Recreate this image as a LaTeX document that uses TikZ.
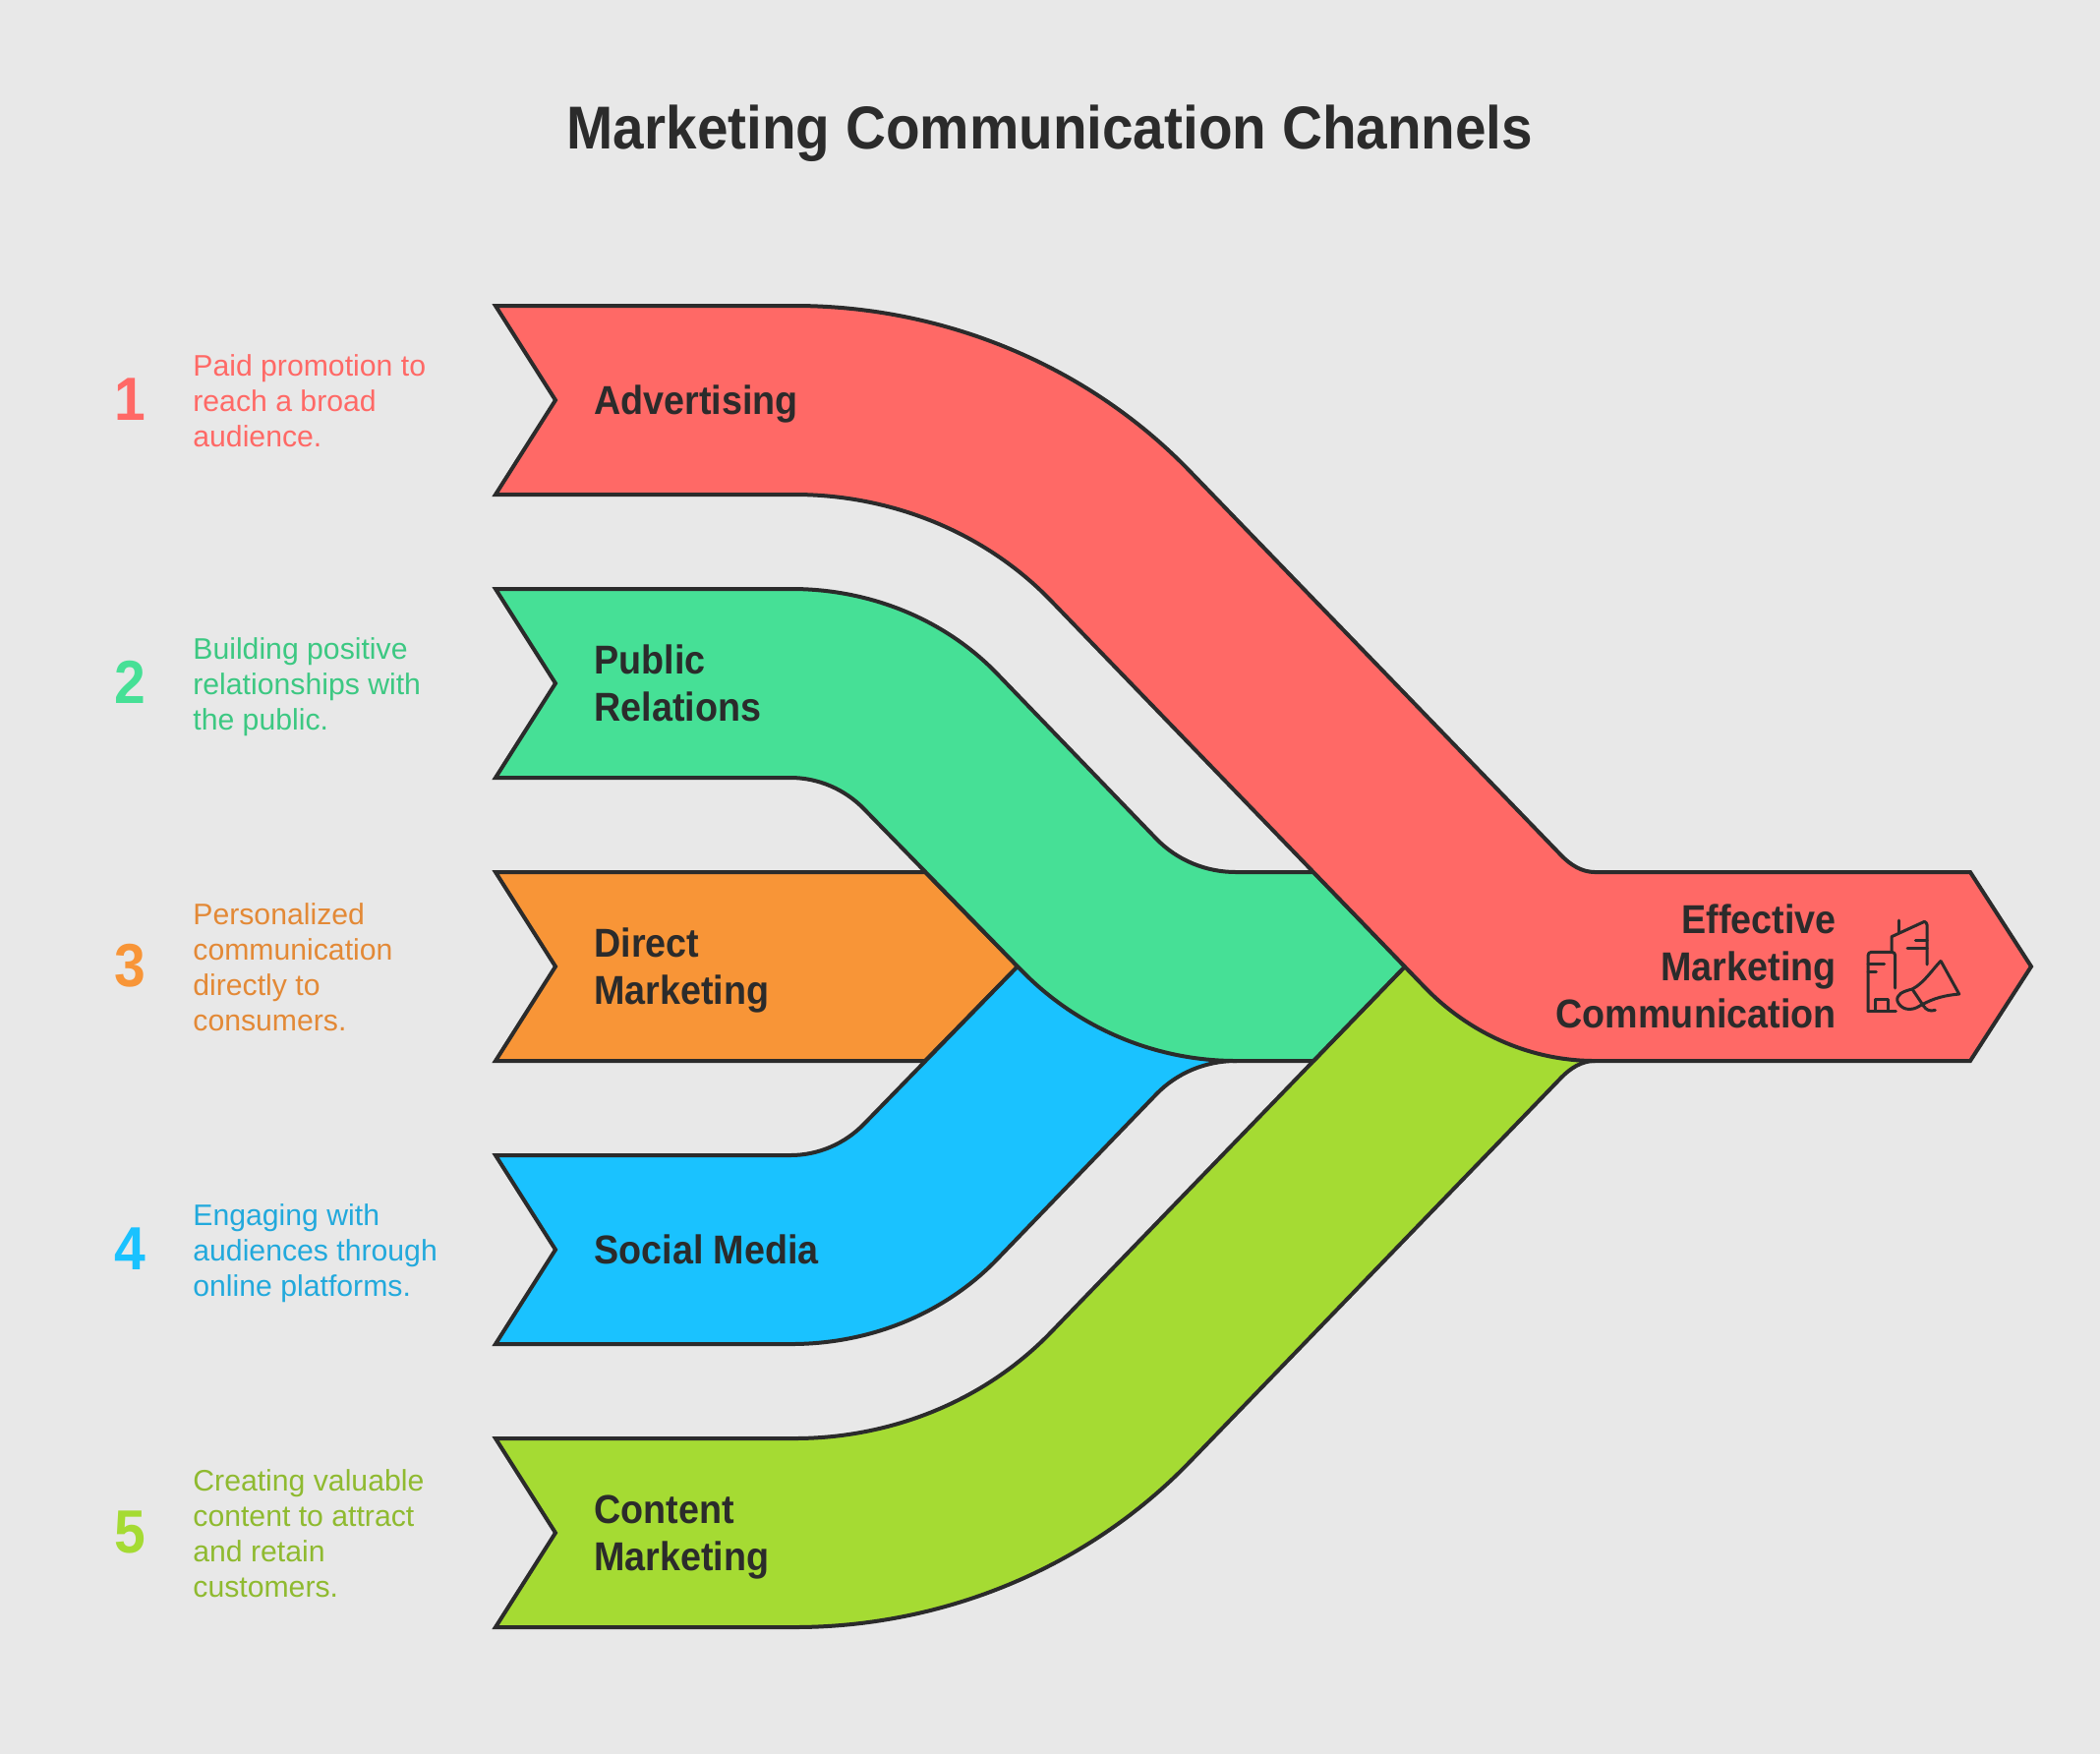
\documentclass[tikz,border=0pt]{standalone}
\usepackage{fontspec}
\setmainfont{Liberation Sans}
\newfontfamily\narrowfont[FakeStretch=.92]{Liberation Sans}

\definecolor{bgcol}{HTML}{E8E8E8}
\definecolor{inkcol}{HTML}{2B2B2B}
\definecolor{redcol}{HTML}{FF6966}
\definecolor{greencol}{HTML}{46E096}
\definecolor{orangecol}{HTML}{F89537}
\definecolor{bluecol}{HTML}{1AC2FF}
\definecolor{limecol}{HTML}{A5DB33}
\definecolor{greentxt}{HTML}{3CC882}
\definecolor{orangetxt}{HTML}{E38936}
\definecolor{bluetxt}{HTML}{22A9DC}
\definecolor{limetxt}{HTML}{8FBA30}

\newcommand{\descstrut}{\rule[-4.15pt]{0pt}{18pt}}
\newcommand{\labstrut}{\rule[-5pt]{0pt}{24pt}}

\tikzset{
  band/.style = {draw=inkcol, line width=2pt, line join=miter},
  title/.style = {inkcol, inner sep=0pt, anchor=base, font=\narrowfont\bfseries\fontsize{30.8}{36}\selectfont},
  num/.style = {inner sep=0pt, font=\narrowfont\bfseries\fontsize{31}{36}\selectfont},
  desc/.style = {anchor=west, inner sep=0pt, yshift=-2.1pt, align=left, font=\fontsize{15.1}{18}\selectfont,
    execute at begin node=\descstrut, execute at end node=\descstrut},
  lab/.style = {anchor=west, inner sep=0pt, align=left, inkcol, font=\narrowfont\bfseries\fontsize{20.5}{24}\selectfont,
    execute at begin node=\labstrut, execute at end node=\labstrut},
  lablines/.style = {lab, yshift=-2.5pt},
  downin/.style = {out=0, in=134, looseness=.885},
  downout/.style = {out=-46, in=180, looseness=.885},
  backin/.style = {out=180, in=-46, looseness=.885},
  backout/.style = {out=134, in=0, looseness=.885},
  upin/.style = {out=0, in=-134, looseness=.885},
  upbackin/.style = {out=180, in=46, looseness=.885},
  upbackout/.style = {out=-134, in=0, looseness=.885},
  icon/.style = {draw=inkcol, line width=1.5pt, line cap=round, line join=round},
}

\begin{document}
\begin{tikzpicture}[x=.5pt, y=.5pt]

\fill[bgcol] (0,0) rectangle (2136,-1784);
\useasboundingbox (0,0) rectangle (2136,-1784);

% Direct Marketing
\path[band, fill=orangecol] (504,-887) -- (941,-887) -- (1035,-983) -- (941,-1079) -- (504,-1079) -- (565,-983) -- cycle;

% Social Media
\path[band, fill=bluecol] (504,-1175) -- (804,-1175) to[upin] (879,-1143) -- (1035,-983) -- (1257,-983) -- (1257,-1079)
  to[upbackin] (1176,-1113) -- (1014,-1281) to[upbackout] (805,-1367) -- (504,-1367) -- (565,-1271) -- cycle;

% Content Marketing
\path[band, fill=limecol] (504,-1463) -- (808,-1463) to[upin] (1069,-1355) -- (1429,-983) -- (1622,-983) -- (1622,-1079)
  to[upbackin] (1588,-1096) -- (1210,-1487) to[upbackout] (808,-1655) -- (504,-1655) -- (565,-1559) -- cycle;

% Public Relations
\path[band, fill=greencol] (504,-599) -- (805,-599) to[downin] (1014,-685) -- (1176,-853) to[downout] (1257,-887)
  -- (1336,-887) -- (1429,-983) -- (1336,-1079) -- (1257,-1079) to[backin] (1038,-986) -- (879,-823) to[backout] (804,-791)
  -- (504,-791) -- (565,-695) -- cycle;

% Advertising
\path[band, fill=redcol] (504,-311) -- (808,-311) to[downin] (1210,-479) -- (1588,-870) to[downout] (1622,-887)
  -- (2004,-887) -- (2066,-983) -- (2004,-1079) -- (1622,-1079) to[backin] (1449,-1004) -- (1069,-611) to[backout] (808,-503)
  -- (504,-503) -- (565,-407) -- cycle;

\node[title] (head) at (1068,-151) {Marketing Communication Channels};

\node[num, redcol] (num1) at (132,-406) {1};
\node[num, greencol] (num2) at (132,-694) {2};
\node[num, orangecol] (num3) at (132,-982) {3};
\node[num, bluecol] (num4) at (132,-1270) {4};
\node[num, limecol] (num5) at (132,-1558) {5};

\node[desc, redcol] (desc1) at (196,-407) {Paid promotion to\\reach a broad\\audience.};
\node[desc, greentxt] (desc2) at (196,-695) {Building positive\\relationships with\\the public.};
\node[desc, orangetxt] (desc3) at (196,-983) {Personalized\\communication\\directly to\\consumers.};
\node[desc, bluetxt] (desc4) at (196,-1271) {Engaging with\\audiences through\\online platforms.};
\node[desc, limetxt] (desc5) at (196,-1559) {Creating valuable\\content to attract\\and retain\\customers.};

\node[lab] (lab1) at (604,-407) {Advertising};
\node[lablines] (lab2) at (604,-695) {Public\\Relations};
\node[lablines] (lab3) at (604,-983) {Direct\\Marketing};
\node[lab] (lab4) at (604,-1271) {Social Media};
\node[lablines] (lab5) at (604,-1559) {Content\\Marketing};
\node[lablines, anchor=east, align=right] (lab6) at (1868,-983) {Effective\\Marketing\\Communication};

% icon
\begin{scope}[shift={(1850,-900)}, x=.1667pt, y=-.1667pt]
\draw[icon] (150,385) -- (150,215) to[out=90,in=180] (160,205) -- (223,205) to[out=0,in=90] (233,215) -- (233,315);
\draw[icon] (150,385) -- (235,385);
\draw[icon] (172,382) -- (172,350) -- (210,350) -- (210,382);
\draw[icon] (150,240) -- (200,240);
\draw[icon] (150,265) -- (175,265);
\draw[icon] (222,205) -- (222,158) -- (322,112) to[out=-25,in=90] (330,122) -- (330,243);
\draw[icon] (245,108) -- (245,145);
\draw[icon] (295,170) -- (330,170);
\draw[icon] (270,193) -- (330,193);
\draw[icon] (372,232) -- (428,333) .. controls (385,337) and (350,345) .. (310,368)
  .. controls (280,388) and (250,380) .. (240,355) .. controls (235,335) and (255,325) .. (285,318)
  .. controls (320,300) and (345,260) .. (372,232);
\draw[icon] (285,318) -- (320,370) .. controls (328,382) and (340,387) .. (355,382);
\end{scope}

\end{tikzpicture}
\end{document}
